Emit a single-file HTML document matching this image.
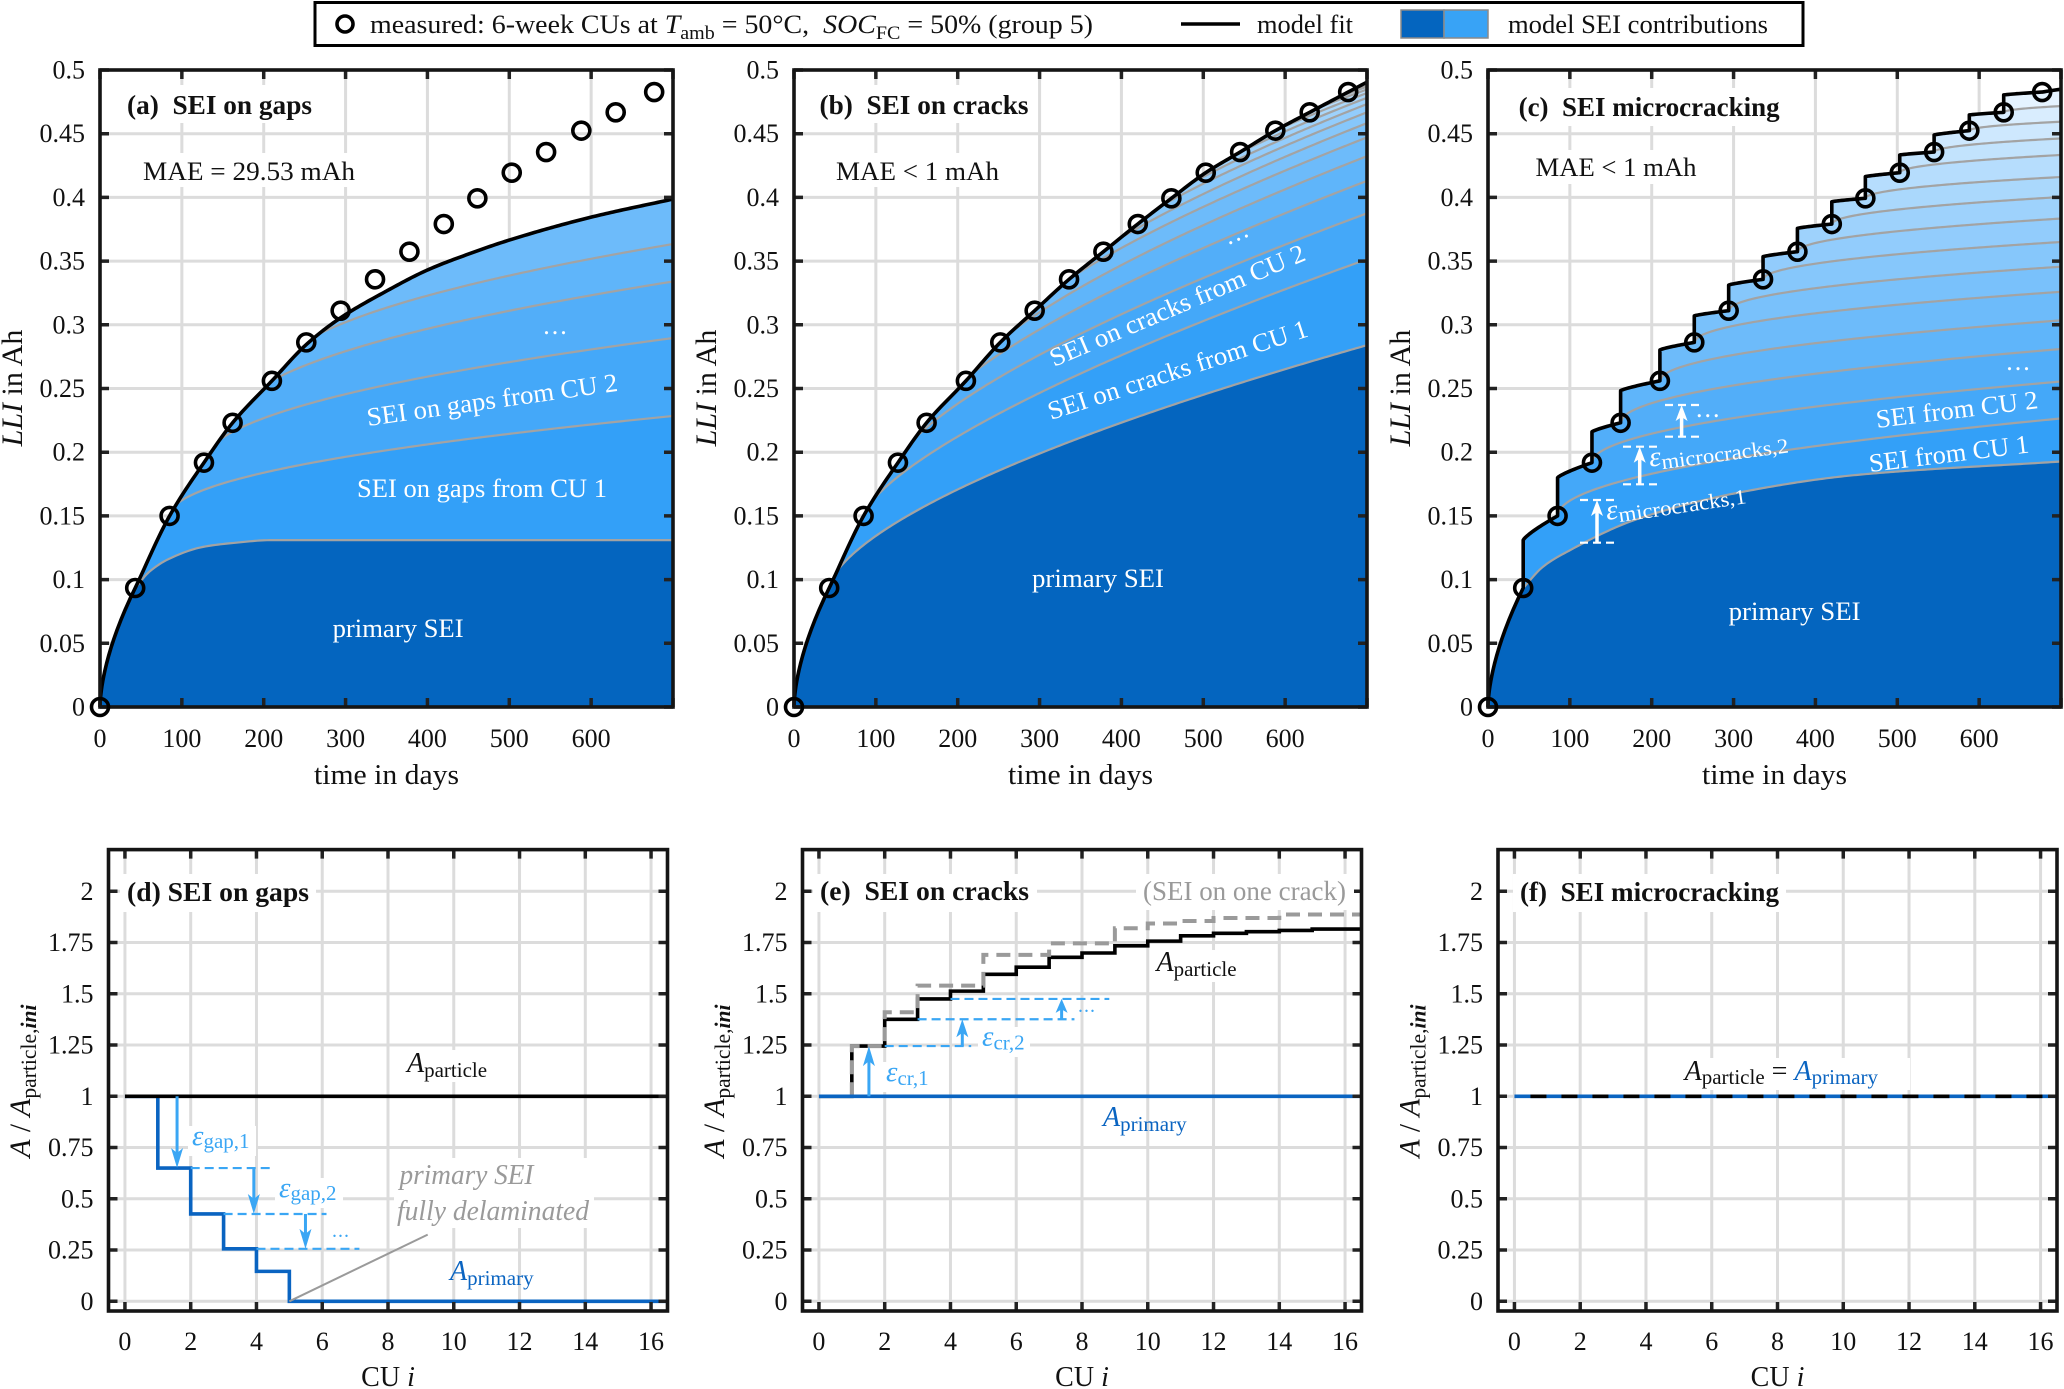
<!DOCTYPE html>
<html><head><meta charset="utf-8">
<style>
html,body{margin:0;padding:0;background:#fff;}
svg{display:block;}
text{font-family:"Liberation Serif","DejaVu Serif",serif;fill:#111;white-space:pre;}
.w{fill:#fff;}
.tk{font-size:26px;}
.ye{text-anchor:end;}
.xm{text-anchor:middle;}
.ttl{font-size:27px;font-weight:bold;}
.lbl{font-size:26px;fill:#fff;}
.lb{fill:#3AA6F4;}
.bl{fill:#0A64C1;}
</style></head><body>
<svg id="s" width="2064" height="1389" viewBox="0 0 2064 1389" xmlns="http://www.w3.org/2000/svg">
<rect x="0" y="0" width="2064" height="1389" fill="#fff"/>
<g id="plots"></g>
<g id="txt">
<!-- Legend -->
<rect x="315" y="2.5" width="1488" height="43" fill="#fff" stroke="#000" stroke-width="3"/>
<circle cx="345" cy="24" r="8" fill="none" stroke="#000" stroke-width="3.6"/>
<text x="370" y="33" font-size="26.5" textLength="723" lengthAdjust="spacingAndGlyphs">measured: 6-week CUs at <tspan font-style="italic">T</tspan><tspan font-size="19" dy="6">amb</tspan><tspan dy="-6"> = 50°C,  </tspan><tspan font-style="italic">SOC</tspan><tspan font-size="19" dy="6">FC</tspan><tspan dy="-6"> = 50% (group 5)</tspan></text>
<line x1="1181" y1="24" x2="1240" y2="24" stroke="#000" stroke-width="3.6"/>
<text x="1257" y="33" font-size="26.5" textLength="96" lengthAdjust="spacingAndGlyphs">model fit</text>
<rect x="1401" y="10" width="43" height="28" fill="#0465BF" stroke="#8a8a8a" stroke-width="1.5"/>
<rect x="1444" y="10" width="44" height="28" fill="#38A3F6" stroke="#8a8a8a" stroke-width="1.5"/>
<text x="1508" y="33" font-size="26.5" textLength="260" lengthAdjust="spacingAndGlyphs">model SEI contributions</text>

<!-- top titles with white bg -->
<rect x="118" y="85" width="204" height="38" fill="#fff"/>
<text class="ttl" x="127" y="114" textLength="185" lengthAdjust="spacingAndGlyphs">(a)  SEI on gaps</text>
<rect x="136" y="153" width="226" height="34" fill="#fff"/>
<text x="143" y="180" font-size="26" textLength="212" lengthAdjust="spacingAndGlyphs">MAE = 29.53 mAh</text>

<rect x="812" y="85" width="225" height="38" fill="#fff"/>
<text class="ttl" x="819.5" y="114" textLength="209" lengthAdjust="spacingAndGlyphs">(b)  SEI on cracks</text>
<rect x="829" y="153" width="177" height="34" fill="#fff"/>
<text x="836" y="180" font-size="26" textLength="163" lengthAdjust="spacingAndGlyphs">MAE &lt; 1 mAh</text>

<rect x="1511" y="88" width="277" height="38" fill="#fff"/>
<text class="ttl" x="1518.6" y="116" textLength="261" lengthAdjust="spacingAndGlyphs">(c)  SEI microcracking</text>
<rect x="1528" y="150" width="176" height="34" fill="#fff"/>
<text x="1535.5" y="176" font-size="26" textLength="161" lengthAdjust="spacingAndGlyphs">MAE &lt; 1 mAh</text>

<!-- top in-plot labels -->
<text class="lbl" x="368" y="426" transform="rotate(-8 368 426)" textLength="253" lengthAdjust="spacingAndGlyphs">SEI on gaps from CU 2</text>
<text class="lbl" x="357" y="497" textLength="250" lengthAdjust="spacingAndGlyphs">SEI on gaps from CU 1</text>
<text class="lbl" x="332.6" y="637" textLength="131" lengthAdjust="spacingAndGlyphs">primary SEI</text>
<text class="lbl xm" x="556" y="334" font-size="22" letter-spacing="2">...</text>

<text class="lbl" x="1051" y="420" transform="rotate(-18 1051 420)" textLength="272" lengthAdjust="spacingAndGlyphs">SEI on cracks from CU 1</text>
<text class="lbl" x="1054" y="367" transform="rotate(-23 1054 367)" textLength="275" lengthAdjust="spacingAndGlyphs">SEI on cracks from CU 2</text>
<text class="lbl" x="1032" y="587" textLength="132" lengthAdjust="spacingAndGlyphs">primary SEI</text>
<text class="lbl xm" x="1240" y="240" font-size="22" letter-spacing="2" transform="rotate(-23 1240 240)">...</text>

<text class="lbl" x="1728.6" y="620" textLength="132" lengthAdjust="spacingAndGlyphs">primary SEI</text>
<text class="lbl" x="1870" y="472" transform="rotate(-7 1870 472)" textLength="161" lengthAdjust="spacingAndGlyphs">SEI from CU 1</text>
<text class="lbl" x="1877" y="428" transform="rotate(-7 1877 428)" textLength="163" lengthAdjust="spacingAndGlyphs">SEI from CU 2</text>
<text class="lbl xm" x="2019" y="370" font-size="22" letter-spacing="2">...</text>
<text class="lbl" x="1696" y="417" font-size="22" letter-spacing="2">...</text>
<text class="w" x="1607" y="520" font-size="28" font-style="italic" transform="rotate(-8.5 1607 520)" textLength="141" lengthAdjust="spacingAndGlyphs">ε<tspan font-size="21" font-style="normal" dy="4">microcracks,1</tspan></text>
<text class="w" x="1650" y="466.7" font-size="28" font-style="italic" transform="rotate(-7.5 1650 466.7)" textLength="140" lengthAdjust="spacingAndGlyphs">ε<tspan font-size="21" font-style="normal" dy="4">microcracks,2</tspan></text>

<!-- top tick labels -->
<g class="tk xm">
<text x="100" y="747">0</text><text x="181.9" y="747">100</text><text x="263.7" y="747">200</text><text x="345.6" y="747">300</text><text x="427.4" y="747">400</text><text x="509.3" y="747">500</text><text x="591.1" y="747">600</text>
<text x="794" y="747">0</text><text x="875.9" y="747">100</text><text x="957.7" y="747">200</text><text x="1039.6" y="747">300</text><text x="1121.4" y="747">400</text><text x="1203.3" y="747">500</text><text x="1285.1" y="747">600</text>
<text x="1488" y="747">0</text><text x="1569.9" y="747">100</text><text x="1651.7" y="747">200</text><text x="1733.6" y="747">300</text><text x="1815.4" y="747">400</text><text x="1897.3" y="747">500</text><text x="1979.1" y="747">600</text>
</g>
<g class="tk ye">
<text x="85" y="715.5">0</text><text x="85" y="651.8">0.05</text><text x="85" y="588.1">0.1</text><text x="85" y="524.4">0.15</text><text x="85" y="460.7">0.2</text><text x="85" y="397">0.25</text><text x="85" y="333.3">0.3</text><text x="85" y="269.6">0.35</text><text x="85" y="205.9">0.4</text><text x="85" y="142.2">0.45</text><text x="85" y="78.5">0.5</text>
<text x="779" y="715.5">0</text><text x="779" y="651.8">0.05</text><text x="779" y="588.1">0.1</text><text x="779" y="524.4">0.15</text><text x="779" y="460.7">0.2</text><text x="779" y="397">0.25</text><text x="779" y="333.3">0.3</text><text x="779" y="269.6">0.35</text><text x="779" y="205.9">0.4</text><text x="779" y="142.2">0.45</text><text x="779" y="78.5">0.5</text>
<text x="1473" y="715.5">0</text><text x="1473" y="651.8">0.05</text><text x="1473" y="588.1">0.1</text><text x="1473" y="524.4">0.15</text><text x="1473" y="460.7">0.2</text><text x="1473" y="397">0.25</text><text x="1473" y="333.3">0.3</text><text x="1473" y="269.6">0.35</text><text x="1473" y="205.9">0.4</text><text x="1473" y="142.2">0.45</text><text x="1473" y="78.5">0.5</text>
</g>
<g font-size="28" class="xm">
<text x="386.5" y="784" textLength="145" lengthAdjust="spacingAndGlyphs">time in days</text>
<text x="1080.5" y="784" textLength="145" lengthAdjust="spacingAndGlyphs">time in days</text>
<text x="1774.5" y="784" textLength="145" lengthAdjust="spacingAndGlyphs">time in days</text>
</g>
<g font-size="30" class="xm">
<text transform="translate(22 388) rotate(-90)"><tspan font-style="italic">LLI</tspan> in Ah</text>
<text transform="translate(716 388) rotate(-90)"><tspan font-style="italic">LLI</tspan> in Ah</text>
<text transform="translate(1410 388) rotate(-90)"><tspan font-style="italic">LLI</tspan> in Ah</text>
</g>

<!-- lower tick labels -->
<g class="tk xm">
<text x="124.9" y="1350">0</text><text x="190.7" y="1350">2</text><text x="256.5" y="1350">4</text><text x="322.2" y="1350">6</text><text x="388" y="1350">8</text><text x="453.7" y="1350">10</text><text x="519.5" y="1350">12</text><text x="585.3" y="1350">14</text><text x="651" y="1350">16</text>
<text x="818.9" y="1350">0</text><text x="884.7" y="1350">2</text><text x="950.5" y="1350">4</text><text x="1016.2" y="1350">6</text><text x="1082" y="1350">8</text><text x="1147.7" y="1350">10</text><text x="1213.5" y="1350">12</text><text x="1279.3" y="1350">14</text><text x="1345" y="1350">16</text>
<text x="1514.4" y="1350">0</text><text x="1580.2" y="1350">2</text><text x="1646" y="1350">4</text><text x="1711.7" y="1350">6</text><text x="1777.5" y="1350">8</text><text x="1843.2" y="1350">10</text><text x="1909" y="1350">12</text><text x="1974.8" y="1350">14</text><text x="2040.5" y="1350">16</text>
</g>
<g class="tk ye">
<text x="93.5" y="1309.8">0</text><text x="93.5" y="1258.6">0.25</text><text x="93.5" y="1207.3">0.5</text><text x="93.5" y="1156">0.75</text><text x="93.5" y="1104.8">1</text><text x="93.5" y="1053.6">1.25</text><text x="93.5" y="1002.3">1.5</text><text x="93.5" y="951">1.75</text><text x="93.5" y="899.8">2</text>
<text x="787.5" y="1309.8">0</text><text x="787.5" y="1258.6">0.25</text><text x="787.5" y="1207.3">0.5</text><text x="787.5" y="1156">0.75</text><text x="787.5" y="1104.8">1</text><text x="787.5" y="1053.6">1.25</text><text x="787.5" y="1002.3">1.5</text><text x="787.5" y="951">1.75</text><text x="787.5" y="899.8">2</text>
<text x="1483" y="1309.8">0</text><text x="1483" y="1258.6">0.25</text><text x="1483" y="1207.3">0.5</text><text x="1483" y="1156">0.75</text><text x="1483" y="1104.8">1</text><text x="1483" y="1053.6">1.25</text><text x="1483" y="1002.3">1.5</text><text x="1483" y="951">1.75</text><text x="1483" y="899.8">2</text>
</g>
<g font-size="28" class="xm">
<text x="388" y="1386">CU <tspan font-style="italic">i</tspan></text>
<text x="1082" y="1386">CU <tspan font-style="italic">i</tspan></text>
<text x="1777.5" y="1386">CU <tspan font-style="italic">i</tspan></text>
</g>
<g font-size="30" class="xm">
<text transform="translate(30 1081) rotate(-90)" textLength="153" lengthAdjust="spacingAndGlyphs"><tspan font-style="italic">A</tspan> / <tspan font-style="italic">A</tspan><tspan font-size="22" dy="6">particle,</tspan><tspan font-size="22" font-style="italic" font-weight="bold">ini</tspan></text>
<text transform="translate(724 1081) rotate(-90)" textLength="153" lengthAdjust="spacingAndGlyphs"><tspan font-style="italic">A</tspan> / <tspan font-style="italic">A</tspan><tspan font-size="22" dy="6">particle,</tspan><tspan font-size="22" font-style="italic" font-weight="bold">ini</tspan></text>
<text transform="translate(1419.5 1081) rotate(-90)" textLength="153" lengthAdjust="spacingAndGlyphs"><tspan font-style="italic">A</tspan> / <tspan font-style="italic">A</tspan><tspan font-size="22" dy="6">particle,</tspan><tspan font-size="22" font-style="italic" font-weight="bold">ini</tspan></text>
</g>

<!-- (d) labels -->
<rect x="120" y="874" width="196" height="38" fill="#fff"/>
<text class="ttl" x="127" y="901" textLength="182" lengthAdjust="spacingAndGlyphs">(d) SEI on gaps</text>
<rect x="400" y="1050" width="100" height="32" fill="#fff"/>
<text x="407" y="1072" font-size="28" font-style="italic">A<tspan font-style="normal" font-size="21" dy="5">particle</tspan></text>
<rect x="188" y="1126" width="68" height="30" fill="#fff"/>
<text class="lb" x="192" y="1145" font-size="29" font-style="italic">ε<tspan font-size="21" font-style="normal" dy="3">gap,1</tspan></text>
<rect x="275" y="1178" width="68" height="30" fill="#fff"/>
<text class="lb" x="279" y="1197" font-size="29" font-style="italic">ε<tspan font-size="21" font-style="normal" dy="3">gap,2</tspan></text>
<text class="lb" x="332" y="1237" font-size="20" letter-spacing="1">...</text>
<rect x="394" y="1158" width="200" height="70" fill="#fff"/>
<text x="399.5" y="1184" font-size="28" font-style="italic" style="fill:#9a9a9a" textLength="134" lengthAdjust="spacingAndGlyphs">primary SEI</text>
<text x="397" y="1220" font-size="28" font-style="italic" style="fill:#9a9a9a" textLength="192" lengthAdjust="spacingAndGlyphs">fully delaminated</text>
<text class="bl" x="450" y="1280" font-size="28" font-style="italic">A<tspan font-style="normal" font-size="21" dy="5">primary</tspan></text>

<!-- (e) labels -->
<rect x="813" y="874" width="224" height="38" fill="#fff"/>
<text class="ttl" x="820" y="900" textLength="209" lengthAdjust="spacingAndGlyphs">(e)  SEI on cracks</text>
<rect x="1136" y="874" width="218" height="36" fill="#fff"/>
<text x="1143" y="900" font-size="27" style="fill:#9a9a9a" textLength="203" lengthAdjust="spacingAndGlyphs">(SEI on one crack)</text>
<rect x="1150" y="950" width="100" height="32" fill="#fff"/>
<text x="1156.5" y="971" font-size="28" font-style="italic">A<tspan font-style="normal" font-size="21" dy="5">particle</tspan></text>
<text class="bl" x="1103" y="1126" font-size="28" font-style="italic">A<tspan font-style="normal" font-size="21" dy="5">primary</tspan></text>
<rect x="882" y="1062" width="52" height="30" fill="#fff"/>
<text class="lb" x="886" y="1081" font-size="29" font-style="italic">ε<tspan font-size="21" font-style="normal" dy="4">cr,1</tspan></text>
<rect x="978" y="1027" width="52" height="30" fill="#fff"/>
<text class="lb" x="982" y="1045.5" font-size="29" font-style="italic">ε<tspan font-size="21" font-style="normal" dy="4">cr,2</tspan></text>
<text class="lb" x="1078" y="1012" font-size="20" letter-spacing="1">...</text>

<!-- (f) labels -->
<rect x="1513" y="874" width="273" height="38" fill="#fff"/>
<text class="ttl" x="1520" y="901" textLength="259" lengthAdjust="spacingAndGlyphs">(f)  SEI microcracking</text>
<rect x="1678" y="1058" width="232" height="32" fill="#fff"/>
<text x="1684.6" y="1080" font-size="28" font-style="italic">A<tspan font-style="normal" font-size="21" dy="4">particle</tspan><tspan font-style="normal" font-size="28" dy="-4"> = </tspan><tspan style="fill:#0A64C1">A</tspan><tspan style="fill:#0A64C1" font-style="normal" font-size="21" dy="4">primary</tspan></text>
</g>
</svg>
<script>
(function(){
const NS='http://www.w3.org/2000/svg';
const P=document.getElementById('plots');
function E(tag,a,p){const e=document.createElementNS(NS,tag);for(const k in a)e.setAttribute(k,a[k]);(p||P).appendChild(e);return e;}
function pchip(xs,ys){
 const n=xs.length,d=[],m=[];
 for(let i=0;i<n-1;i++)d.push((ys[i+1]-ys[i])/(xs[i+1]-xs[i]));
 m[0]=d[0];m[n-1]=d[n-2];
 for(let i=1;i<n-1;i++){if(d[i-1]*d[i]<=0)m[i]=0;else{const h0=xs[i]-xs[i-1],h1=xs[i+1]-xs[i];const w1=2*h1+h0,w2=h1+2*h0;m[i]=(w1+w2)/(w1/d[i-1]+w2/d[i]);}}
 return function(x){let i=0;while(i<n-2&&x>xs[i+1])i++;const h=xs[i+1]-xs[i],t=(x-xs[i])/h,t2=t*t,t3=t2*t;
  return (2*t3-3*t2+1)*ys[i]+(t3-2*t2+t)*h*m[i]+(-2*t3+3*t2)*ys[i+1]+(t3-t2)*h*m[i+1];};
}
const T=[0,43,85,127,162,210,252,294,336,378,420,461,503,545,588,630,677];
const Y=[0,0.0934,0.150,0.1918,0.2231,0.256,0.2862,0.3111,0.3357,0.3574,0.3791,0.3993,0.4194,0.4356,0.4524,0.4668,0.4827];
const EARLY=[0,0.05,0.2,0.5,1,1.6,2.4,3.4,4.6,6,8,10.5,13.5,17,21,26,31,37,43];
function early(t){return 0.0934*Math.pow(Math.max(t,0)/43,0.6);}
function steps(a,b,st){st=st||3;const r=[a];let t=Math.floor(a/st)*st+st;for(;t<b-1e-6;t+=st)r.push(t);r.push(b);return r;}
function mkF(pts){const f=pchip(pts.map(p=>p[0]),pts.map(p=>p[1]));return t=>t<=43?early(t):f(t);}
const TX=[100,794,1488],TW=573,TY0=707,TYS=1274,TTOP=70;
const PRIM='#0465BF';
function col(k){const f=Math.pow((k-1)/15,0.9);const a=[0x33,0xA0,0xF8],b=[0xF0,0xF8,0xFF];return 'rgb('+a.map((v,i)=>Math.round(v+(b[i]-v)*f)).join(',')+')';}

function topPanel(i,topPts,Ftop,prim,ends,q,nL){
 const X=t=>TX[i]+t*TW/700, Yp=v=>TY0-v*TYS;
 const g=E('g',{});
 for(let t=100;t<=600;t+=100)E('line',{x1:X(t),x2:X(t),y1:TTOP,y2:TY0,stroke:'#dcdcdc','stroke-width':3},g);
 for(let k=1;k<10;k++){const y=Yp(k*0.05);E('line',{x1:TX[i],x2:TX[i]+TW,y1:y,y2:y,stroke:'#dcdcdc','stroke-width':3},g);}
 const path=arr=>arr.map((p,j)=>(j?'L':'M')+X(p[0]).toFixed(2)+' '+Yp(p[1]).toFixed(2)).join('');
 const close='L'+X(700)+' '+Yp(0)+'L'+X(0)+' '+Yp(0)+'Z';
 E('path',{d:path(topPts)+close,fill:col(nL)},g);
 const lines=[];
 for(let k=nL-1;k>=1;k--){
  const ts=T[k+1], ys=(Ftop?Ftop(ts):Y[k+1]);
  const base=topPts.filter(p=>p[0]<ts-1e-9);base.push([ts,ys]);
  const cont=[];
  for(const t of steps(ts,700)){const u=(t-ts)/(700-ts);let v=ys+(ends[k-1]-ys)*Math.pow(u,q);if(Ftop)v=Math.min(v,Ftop(t));cont.push([t,v]);}
  E('path',{d:path(base.concat(cont.slice(1)))+close,fill:col(k)},g);
  lines.push(cont);
 }
 {const base=topPts.filter(p=>p[0]<43-1e-9);base.push([43,Y[1]]);const cont=[];
  for(const t of steps(43,700)){let v=prim(t);if(Ftop)v=Math.min(v,Ftop(t));cont.push([t,v]);}
  E('path',{d:path(base.concat(cont.slice(1)))+close,fill:PRIM},g);lines.push(cont);}
 for(const c of lines)E('path',{d:path(c),fill:'none',stroke:'#a3a3a3','stroke-width':2.2},g);
 E('path',{d:path(topPts),fill:'none',stroke:'#000','stroke-width':3.6,'stroke-linejoin':'round'},g);
 let d='';for(let t=0;t<=700;t+=100){d+='M'+X(t)+' '+TTOP+'v9M'+X(t)+' '+TY0+'v-9';}
 for(let k=0;k<=10;k++){const y=Yp(k*0.05);d+='M'+TX[i]+' '+y+'h9M'+(TX[i]+TW)+' '+y+'h-9';}
 E('path',{d:d,stroke:'#222','stroke-width':3.5,fill:'none'},g);
 E('rect',{x:TX[i],y:TTOP,width:TW,height:TY0-TTOP,fill:'none',stroke:'#151515','stroke-width':3.6},g);
 for(let j=0;j<T.length;j++)E('circle',{cx:X(T[j]),cy:Yp(Y[j]),r:8.5,fill:'none',stroke:'#000','stroke-width':3.6},g);
 return {g:g,X:X,Yp:Yp};
}
function earlyPts(){return EARLY.map(t=>[t,early(t)]);}
// (a)
const Fa=mkF([[43,0.0934],[85,0.150],[127,0.1918],[162,0.2231],[210,0.256],[252,0.2845],[294,0.3055],[350,0.3265],[400,0.343],[450,0.3555],[500,0.3665],[600,0.3845],[700,0.3987]]);
const pa=pchip([43,60,85,127,162,210,700],[0.0934,0.106,0.1165,0.1258,0.1287,0.131,0.131]);
const topA=earlyPts().concat(steps(43,700).slice(1).map(t=>[t,Fa(t)]));
topPanel(0,topA,Fa,pa,[0.2284,0.2896,0.334,0.3634],0.5,5);
// (b)
const Fb=mkF(T.slice(1).map((t,i)=>[t,Y[i+1]]).concat([[700,0.4905]]));
const pb=t=>0.0934+0.1906*Math.pow(Math.max(0,(t-43)/657),0.63);
const Eb=[0.3514,0.3875,0.413];let th=0.0255;for(let k=4;k<=15;k++){th*=0.76;Eb.push(Eb[Eb.length-1]+th);}
const topB=earlyPts().concat(steps(43,700).slice(1).map(t=>[t,Fb(t)]));
topPanel(1,topB,Fb,pb,Eb,0.7,16);
// (c)
const TOPK=[0.131,0.180,0.216,0.2483,0.2803,0.3070,0.3312,0.3535,0.3757,0.3966,0.4163,0.4333,0.449,0.4647,0.4804];
const topC=earlyPts();
for(let k=1;k<=15;k++){
 topC.push([T[k],TOPK[k-1]]);
 const a=T[k],b=T[k+1];
 for(const t of steps(a,b,2).slice(1,-1)){const v=Math.pow((t-a)/(b-a),0.8);topC.push([t,TOPK[k-1]+(Y[k+1]-TOPK[k-1])*v]);}
 topC.push([b,Y[k+1]]);
}
for(const t of steps(677,700,2).slice(1)){topC.push([t,0.4827+(0.485-0.4827)*(t-677)/23]);}
const pc=pchip([43,67,100,180,312,448,700],[0.0934,0.110,0.123,0.147,0.169,0.182,0.1927]);
const Ec=[0.2265,0.2555,0.281,0.3035,0.3259,0.3456,0.365,0.3834,0.4003,0.416,0.4333,0.4463,0.4594,0.4717,0.484];
const C=topPanel(2,topC,null,pc,Ec,0.5,16);
function arrow(g,x,y1,y2,color,w,hl,hw){const dir=y2>y1?1:-1;
 E('line',{x1:x,x2:x,y1:y1,y2:y2-dir*hl*0.7,stroke:color,'stroke-width':w},g);
 E('path',{d:'M'+x+' '+y2+'L'+(x-hw)+' '+(y2-dir*hl)+'L'+x+' '+(y2-dir*hl*0.75)+'L'+(x+hw)+' '+(y2-dir*hl)+'Z',fill:color},g);}
function dash(g,x1,x2,y,color,w,da){E('line',{x1:x1,x2:x2,y1:y,y2:y,stroke:color,'stroke-width':w,'stroke-dasharray':da},g);}
[[1597,542.7,500,1580,1615],[1639.7,484.3,446.7,1623,1658],[1681.6,436.7,405,1665,1700]].forEach(a=>{
 dash(C.g,a[3],a[4],a[1],'#fff',2.2,'8 5');dash(C.g,a[3],a[4],a[2],'#fff',2.2,'8 5');
 arrow(C.g,a[0],a[1],a[2],'#fff',3.5,16,6);
});

// lower panels
const LX=[108.5,802.5,1498],LW=559,LTOP=849.6,LBOT=1311,LY0=1301.3,LYS=205;
const LB='#3AA6F4',PB='#0A64C1';
function lowPanel(i,draw){
 const X=c=>LX[i]+(c+0.5)*LW/17, Yp=v=>LY0-v*LYS;
 const g=E('g',{});
 for(let c=0;c<=16;c+=2)E('line',{x1:X(c),x2:X(c),y1:LTOP,y2:LBOT,stroke:'#dcdcdc','stroke-width':3},g);
 for(let k=0;k<=8;k++){const y=Yp(k*0.25);E('line',{x1:LX[i],x2:LX[i]+LW,y1:y,y2:y,stroke:'#dcdcdc','stroke-width':3},g);}
 draw(g,X,Yp);
 let d='';for(let c=0;c<=16;c+=2){d+='M'+X(c)+' '+LTOP+'v9M'+X(c)+' '+LBOT+'v-9';}
 for(let k=0;k<=8;k++){const y=Yp(k*0.25);d+='M'+LX[i]+' '+y+'h9M'+(LX[i]+LW)+' '+y+'h-9';}
 E('path',{d:d,stroke:'#222','stroke-width':3.5,fill:'none'},g);
 E('rect',{x:LX[i],y:LTOP,width:LW,height:LBOT-LTOP,fill:'none',stroke:'#151515','stroke-width':3.6},g);
}
lowPanel(0,(g,X,Yp)=>{
 E('path',{d:'M'+X(0)+' '+Yp(1)+'H'+X(1)+'V'+Yp(0.65)+'H'+X(2)+'V'+Yp(0.426)+'H'+X(3)+'V'+Yp(0.256)+'H'+X(4)+'V'+Yp(0.146)+'H'+X(5)+'V'+Yp(0)+'H'+X(16.5),fill:'none',stroke:PB,'stroke-width':3.6},g);
 E('line',{x1:X(0),x2:X(16.5),y1:Yp(1),y2:Yp(1),stroke:'#000','stroke-width':3.6},g);
 dash(g,X(2),X(4.53),Yp(0.65),LB,2.2,'9 5');
 dash(g,X(3),X(6.13),Yp(0.426),LB,2.2,'9 5');
 dash(g,X(4),X(7.13),Yp(0.256),LB,2.2,'9 5');
 arrow(g,X(1.585),Yp(1),Yp(0.65),LB,3,20,6);
 arrow(g,X(3.92),Yp(0.65),Yp(0.426),LB,3,20,6);
 arrow(g,X(5.49),Yp(0.426),Yp(0.256),LB,3,20,6);
 E('line',{x1:X(5),y1:Yp(0),x2:427.7,y2:1234.6,stroke:'#9a9a9a','stroke-width':2},g);
});
lowPanel(1,(g,X,Yp)=>{
 const bv=[1.245,1.3757,1.475,1.513,1.595,1.63,1.678,1.699,1.734,1.757,1.783,1.795,1.803,1.809,1.816];
 let d='M'+X(0)+' '+Yp(1)+'H'+X(1);
 for(let k=0;k<bv.length;k++){d+='V'+Yp(bv[k])+'H'+X(k+2>16?16.5:k+2);}
 d+='H'+X(16.5);
 E('path',{d:d,fill:'none',stroke:'#000','stroke-width':3.6},g);
 const gv=[[1,1.245],[2,1.41],[3,1.54],[5,1.69],[7,1.746],[9,1.82],[10,1.843],[11,1.855],[12,1.87],[14,1.887]];
 let d2='M'+X(1)+' '+Yp(1);
 for(let k=0;k<gv.length;k++){d2+='V'+Yp(gv[k][1])+'H'+X(k+1<gv.length?gv[k+1][0]:16.5);}
 E('path',{d:d2,fill:'none',stroke:'#9a9a9a','stroke-width':4,'stroke-dasharray':'14 8'},g);
 E('line',{x1:X(0),x2:X(16.5),y1:Yp(1),y2:Yp(1),stroke:PB,'stroke-width':3.6},g);
 dash(g,X(2),X(4.63),Yp(1.245),LB,2.2,'9 5');
 dash(g,X(3),X(7.77),Yp(1.3757),LB,2.2,'9 5');
 dash(g,X(4),X(8.83),Yp(1.475),LB,2.2,'9 5');
 arrow(g,X(1.52),Yp(1),Yp(1.245),LB,3,20,6);
 arrow(g,X(4.36),Yp(1.245),Yp(1.3757),LB,3,18,6);
 arrow(g,X(7.38),Yp(1.3757),Yp(1.475),LB,3,14,6);
});
lowPanel(2,(g,X,Yp)=>{
 E('line',{x1:X(0),x2:X(16.5),y1:Yp(1),y2:Yp(1),stroke:PB,'stroke-width':3.6},g);
 E('line',{x1:X(0)+16,x2:X(16.5),y1:Yp(1),y2:Yp(1),stroke:'#000','stroke-width':3.6,'stroke-dasharray':'16 15'},g);
});
})();
</script>
</body></html>
